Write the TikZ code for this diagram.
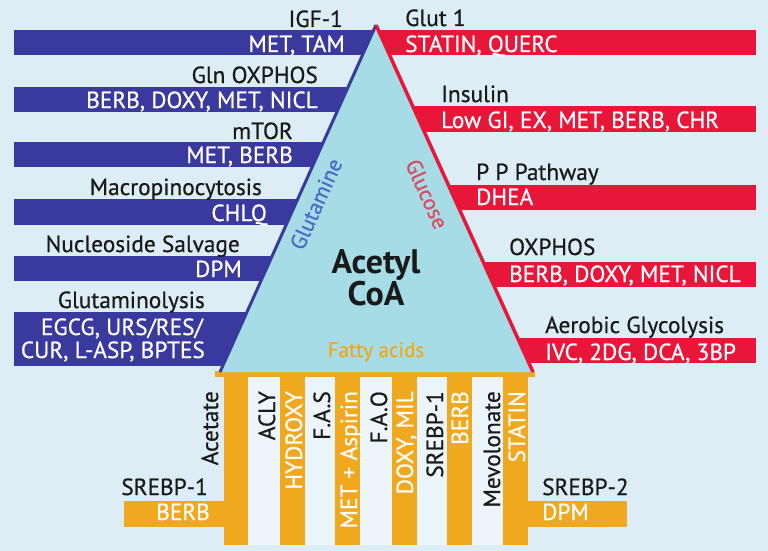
\documentclass[tikz,border=0pt]{standalone}
\usepackage{fontspec}
\setmainfont{PT Sans}
\newfontfamily\semib{PT Sans}[FakeBold=0.6]
\definecolor{bg}{HTML}{DDEDF6}
\definecolor{bbar}{HTML}{3A3A9E}
\definecolor{rbar}{HTML}{E8173A}
\definecolor{tri}{HTML}{A6DCE6}
\definecolor{orng}{HTML}{F0A81E}
\definecolor{stripe}{HTML}{ECF5FA}
\definecolor{glut}{HTML}{4A6CC4}
\definecolor{gluc}{HTML}{DC4A60}
\definecolor{txt}{HTML}{1A1A1A}
\begin{document}
\begin{tikzpicture}[x=1pt,y=-1pt,
  fs/.style={font=\semib\fontsize{23.3}{25}\selectfont},
  lab/.style={fs, text=txt, inner sep=0pt},
  wlab/.style={fs, text=white, inner sep=0pt},
  vlab/.style={fs, rotate=90, anchor=base east, inner sep=0pt},
]
\fill[bg] (0,0) rectangle (768,551);
\useasboundingbox (0,0) rectangle (768,551);
% blue bars
\foreach \a/\b in {30/55, 87/112, 142/167, 199/225, 256/281, 312/366}
  \fill[bbar] (14,\a) rectangle (377,\b);
% red bars
\foreach \a/\b in {30/55, 106/132, 185/210, 262/287, 338/363}
  \fill[rbar] (377,\a) rectangle (756,\b);
% bottom orange structure
\fill[orng] (215,371) rectangle (535,377);
\foreach \a/\b in {224/248, 280/305, 335/360, 392/417, 447/472, 503/528}
  \fill[orng] (\a,376) rectangle (\b,545);
\foreach \a/\b in {248/280, 305/335, 360/392, 417/447, 472/503}
  \fill[stripe] (\a,377) rectangle (\b,545);
\fill[orng] (124,501) rectangle (248,527);
\fill[orng] (528,501) rectangle (627,527);
% triangle
\coordinate (apex) at (376,25);
\coordinate (bl) at (220,372);
\coordinate (br) at (533,372);
\fill[tri] (apex) -- (bl) -- (br) -- cycle;
\draw[bbar, line width=3pt] (apex) -- (bl);
\draw[rbar, line width=3.5pt] (apex) -- (br);
% triangle text
\node[font=\fontsize{34}{36}\selectfont\bfseries, text=txt, inner sep=0pt, anchor=base] (acetyl) at (376,273) {Acetyl};
\node[font=\fontsize{34}{36}\selectfont\bfseries, text=txt, inner sep=0pt, anchor=base] (coa) at (376,305) {CoA};
\node[font=\semib\fontsize{21}{23}\selectfont, text=orng, inner sep=0pt, anchor=base] (fatty) at (376,357) {Fatty acids};
\node[font=\semib\fontsize{22}{24}\selectfont, text=glut, rotate=65.8, inner sep=0pt] (glutamine) at (316,204) {Glutamine};
\node[font=\semib\fontsize{22}{24}\selectfont, text=gluc, rotate=-65.8, inner sep=0pt] (glucose) at (427,194) {Glucose};
% left labels
\node[lab, anchor=base east] (igf) at (343,27) {IGF-1};
\node[wlab, anchor=base east] (igfd) at (345,52) {MET, TAM};
\node[lab, anchor=base east] (gln) at (318,83) {Gln OXPHOS};
\node[wlab, anchor=base east] (glnd) at (318,108) {BERB, DOXY, MET, NICL};
\node[lab, anchor=base east] (mtor) at (293,139) {mTOR};
\node[wlab, anchor=base east] (mtord) at (293,163) {MET, BERB};
\node[lab, anchor=base east] (macro) at (262,195) {Macropinocytosis};
\node[wlab, anchor=base east] (macrod) at (267,221) {CHLQ};
\node[lab, anchor=base east] (nucl) at (240,252) {Nucleoside Salvage};
\node[wlab, anchor=base east] (nucld) at (242,277) {DPM};
\node[lab, anchor=base east] (glnl) at (205,308) {Glutaminolysis};
\node[wlab, anchor=base east] (glnld1) at (203,335) {EGCG, URS/RES/};
\node[wlab, anchor=base east] (glnld2) at (205,358) {CUR, L-ASP, BPTES};
% right labels
\node[lab, anchor=base west] (glut1) at (405,26) {Glut 1};
\node[wlab, anchor=base west] (glut1d) at (405,52) {STATIN, QUERC};
\node[lab, anchor=base west] (ins) at (441,102) {Insulin};
\node[wlab, anchor=base west] (insd) at (441,128) {Low GI, EX, MET, BERB, CHR};
\node[lab, anchor=base west] (ppp) at (476,180) {P P Pathway};
\node[wlab, anchor=base west] (pppd) at (476,205) {DHEA};
\node[lab, anchor=base west] (ox) at (509,255) {OXPHOS};
\node[wlab, anchor=base west] (oxd) at (509,282) {BERB, DOXY, MET, NICL};
\node[lab, anchor=base west] (aer) at (545,333) {Aerobic Glycolysis};
\node[wlab, anchor=base west] (aerd) at (545,360) {IVC, 2DG, DCA, 3BP};
% bottom labels
\node[lab, anchor=base east] (sr1) at (208,495) {SREBP-1};
\node[wlab, anchor=base east] (sr1d) at (210,520) {BERB};
\node[lab, anchor=base west] (sr2) at (542,495) {SREBP-2};
\node[wlab, anchor=base west] (sr2d) at (542,520) {DPM};
\node[vlab, text=txt] (acet) at (218,391) {Acetate};
\node[vlab, text=txt] (acly) at (275,391) {ACLY};
\node[vlab, text=white] (hydroxy) at (302,391) {HYDROXY};
\node[vlab, text=txt] (fas) at (330,391) {F.A.S};
\node[vlab, text=white] (metasp) at (357,391) {MET + Aspirin};
\node[vlab, text=txt] (fao) at (387,391) {F.A.O};
\node[vlab, text=white] (doxy) at (413,391) {DOXY, MIL};
\node[vlab, text=txt] (srb) at (443,391) {SREBP-1};
\node[vlab, text=white] (berb) at (468,391) {BERB};
\node[vlab, text=txt] (mev) at (500,391) {Mevolonate};
\node[vlab, text=white] (statin) at (525,391) {STATIN};
\end{tikzpicture}
\end{document}
